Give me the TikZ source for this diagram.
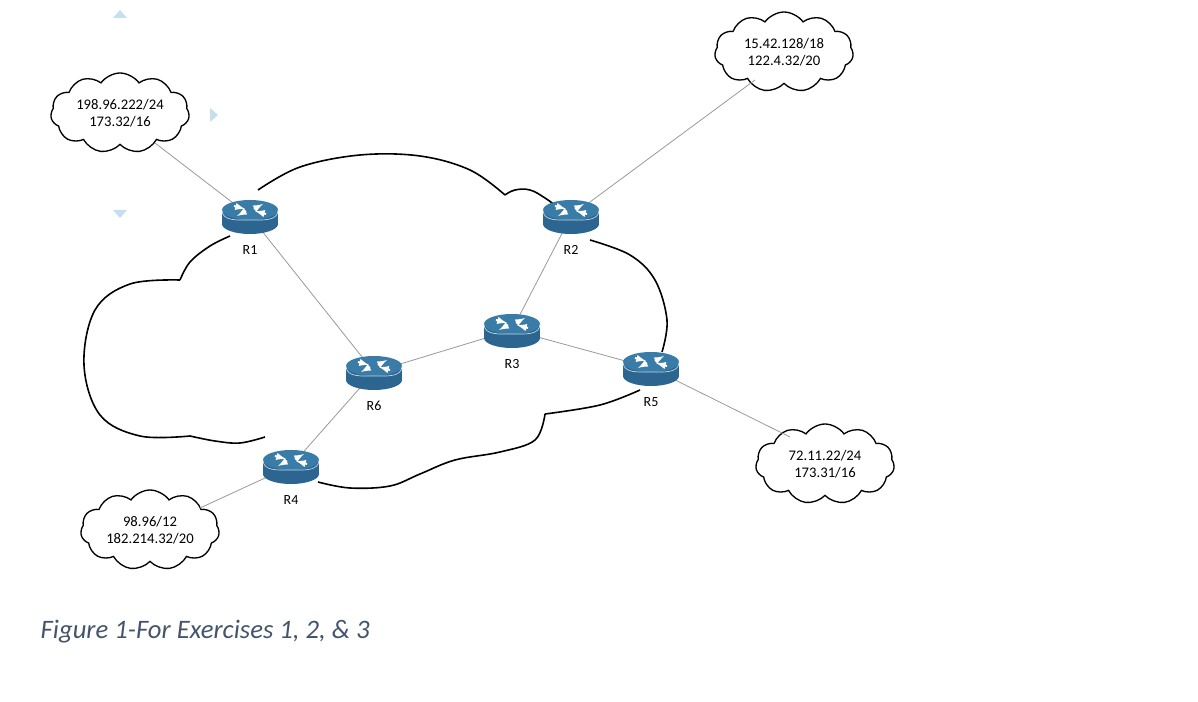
\documentclass[tikz,border=0pt]{standalone}
\usepackage{fontspec}
\setmainfont{Carlito}
\usetikzlibrary{shapes.symbols,calc}
\definecolor{rb}{HTML}{2C6690}
\definecolor{rt}{HTML}{3A7CA8}
\definecolor{cap}{HTML}{44546A}
\definecolor{tri}{HTML}{C5DFEE}
\tikzset{
  link/.style={draw=gray!80, line width=0.6pt},
  lbl/.style={font=\fontsize{10.5}{12}\selectfont},
  big/.style={line width=1.2pt},
  cl/.style={cloud, cloud puffs=11, cloud puff arc=110, aspect=2.1, draw, line width=1pt, fill=white, minimum width=104pt, minimum height=60pt, align=center, font=\fontsize{11}{13}\selectfont, inner sep=0pt},
  pics/router/.style={code={
    \fill[rb] (0,8) ellipse[x radius=28,y radius=10];
    \fill[rb] (-28,-6) rectangle (28,8);
    \fill[rt] (0,-6) ellipse[x radius=28,y radius=10];
    \draw[white!70!rt,line width=0.5pt] (-28,-6) to[out=-90,in=180] (0,4) to[out=0,in=-90] (28,-6);
    \draw[white,line width=1.5pt,-{latex}] (-16,-10) -- (-5,-7);
    \draw[white,line width=1.5pt,-{latex}] (16,-2) -- (5,-5);
    \draw[white,line width=1.5pt,-{latex}] (4,-7) -- (13,-12);
    \draw[white,line width=1.5pt,-{latex}] (-4,-5) -- (-13,0);
  }}
}
\begin{document}
\begin{tikzpicture}[x=0.75pt,y=-0.75pt]
\useasboundingbox (0,0) rectangle (1198,702);
% big cloud
\draw[big] plot[smooth,tension=0.6] coordinates {(258,190) (300,167) (360,155) (420,156) (470,170) (505,195)};
\draw[big] plot[smooth,tension=0.7] coordinates {(505,195) (515,190) (530,190) (545,198) (556,206)};
\draw[big] plot[smooth,tension=0.6] coordinates {(590,240) (630,255) (655,280) (667,320) (662,352)};
\draw[big] plot[smooth,tension=0.6] coordinates {(640,390) (600,405) (545,414)};
\draw[big] plot[smooth,tension=0.6] coordinates {(545,414) (535,440) (500,452) (455,460) (420,474) (390,486) (350,488) (318,482)};
\draw[big] plot[smooth,tension=0.6] coordinates {(265,437) (240,443) (215,441) (190,436)};
\draw[big] plot[smooth,tension=0.6] coordinates {(190,436) (140,436) (100,415) (84,365) (95,310) (130,284) (180,280)};
\draw[big] plot[smooth,tension=0.6] coordinates {(180,280) (190,262) (210,246) (230,236)};
% clouds
\node[cl] (c1) at (120,113) {198.96.222/24\\173.32/16};
\node[cl] (c2) at (784,52) {15.42.128/18\\122.4.32/20};
\node[cl] (c3) at (825,464) {72.11.22/24\\173.31/16};
\node[cl] (c4) at (150,530) {98.96/12\\182.214.32/20};
\coordinate (R1) at (250,216); \coordinate (R2) at (571,216);
\coordinate (R3) at (512,330); \coordinate (R5) at (651,368);
\coordinate (R6) at (374,372); \coordinate (R4) at (291,466);
\draw[link] (155,143) -- (R1);
\draw[link] (R1) -- (R6);
\draw[link] (R2) -- (755,80);
\draw[link] (R2) -- (R3);
\draw[link] (R3) -- (R6);
\draw[link] (R3) -- (R5);
\draw[link] (R5) -- (790,437);
\draw[link] (R6) -- (R4);
\draw[link] (R4) -- (200,508);
\foreach \n in {R1,R2,R3,R5,R6,R4} {\pic at (\n) {router}; \node[lbl] at ($(\n)+(0,34)$) {\n};}
% triangles
\fill[tri] (113,18) -- (127,18) -- (120,10) -- cycle;
\fill[tri] (210,108) -- (210,122) -- (218,115) -- cycle;
\fill[tri] (113,210) -- (127,210) -- (120,218) -- cycle;
\node[anchor=west,text=cap,font=\fontsize{20}{24}\selectfont\itshape] (capt) at (36,632) {Figure 1-For Exercises 1, 2, \& 3};
\end{tikzpicture}
\end{document}
